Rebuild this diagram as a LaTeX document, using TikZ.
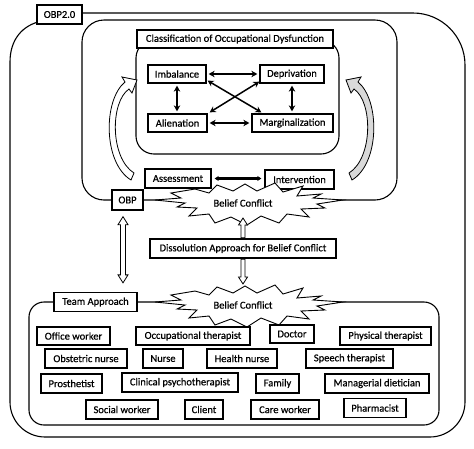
\documentclass[tikz,border=0pt]{standalone}
\usepackage{fontspec}
\setmainfont{Carlito}[BoldFont=Carlito, BoldFeatures={FakeBold=0.6}]
\usetikzlibrary{arrows.meta,calc}
\tikzset{
  burstshape/.pic={
    \draw[line width=0.9pt, fill=white, line join=miter]
      (-88,-3) -- (-62,-5) -- (-72,-10) -- (-48,-14)
      -- (-34,-10) -- (-26,-18) -- (-10,-12) -- (2,-19) -- (14,-12) -- (32,-20) -- (40,-11) -- (60,-17) -- (54,-7)
      -- (78,-9) -- (70,-5) -- (100,-3)
      -- (74,1) -- (82,5) -- (58,6)
      -- (66,14) -- (44,11) -- (36,20) -- (18,13) -- (4,22) -- (-12,14) -- (-28,20) -- (-34,11) -- (-54,13) -- (-46,5)
      -- (-66,4) -- (-58,0) -- cycle;
  },
  hollowline/.style={line width=0.8pt, fill=white, line join=miter}
}
% hollow arrow: #1 tail, #2 tip, #3 shaft half width, #4 head half width, #5 head length
\newcommand\myhollowarrow[5]{%
  \coordinate (hbase) at ($(#2)!#5!(#1)$);
  \draw[hollowline]
    ($(#1)!#3!90:(#2)$) -- ($(hbase)!#3!90:(#2)$) -- ($(hbase)!#4!90:(#2)$) -- (#2)
    -- ($(hbase)!#4!-90:(#2)$) -- ($(hbase)!#3!-90:(#2)$) -- ($(#1)!#3!-90:(#2)$) -- cycle;
}
\newcommand\myhollowboth[5]{%
  \coordinate (hbaseA) at ($(#1)!#5!(#2)$);
  \coordinate (hbaseB) at ($(#2)!#5!(#1)$);
  \draw[hollowline]
    (#1) -- ($(hbaseA)!#4!-90:(#2)$) -- ($(hbaseA)!#3!-90:(#2)$)
    -- ($(hbaseB)!#3!90:(#1)$) -- ($(hbaseB)!#4!90:(#1)$) -- (#2)
    -- ($(hbaseB)!#4!-90:(#1)$) -- ($(hbaseB)!#3!-90:(#1)$)
    -- ($(hbaseA)!#3!90:(#2)$) -- ($(hbaseA)!#4!90:(#2)$) -- cycle;
}
\begin{document}
\begin{tikzpicture}[x=1pt,y=-1pt,
  box/.style={draw, line width=1.3pt, fill=white, inner sep=0pt, minimum height=18pt, font=\fontsize{10.5}{12}\selectfont\bfseries},
  frame/.style={line width=1.1pt},
  dbl/.style={line width=1.5pt, {Stealth[length=6pt,width=6.5pt]}-{Stealth[length=6pt,width=6.5pt]}, shorten <=2pt, shorten >=2pt},
  bctext/.style={font=\fontsize{10.5}{12}\selectfont\bfseries, inner sep=0pt}
]
\useasboundingbox (0,0) rectangle (474,448);

% outer frame
\draw[frame] (60,13) -- (413,13) .. controls (441.7,13) and (465,36.3) .. (465,65)
  -- (465,402) .. controls (465,421.3) and (449.3,437) .. (430,437)
  -- (45,437) .. controls (25.7,437) and (10,421.3) .. (10,402)
  -- (10,62) .. controls (10,40) and (22,25) .. (42,21);
\node[box, minimum width=45pt, minimum height=19pt] (obp2) at (59.5,14.5) {OBP2.0};

% inner OBP frame
\draw[frame, rounded corners=22pt] (82,20) rectangle (397,200);

% classification frame
\draw[frame, rounded corners=18pt] (136,40) rectangle (339,154);
\node[box, minimum width=196pt] (cls) at (235,39) {Classification of Occupational Dysfunction};

\node[box, minimum width=58pt] (imb) at (177,74) {Imbalance};
\node[box, minimum width=64pt] (dep) at (292,74) {Deprivation};
\node[box, minimum width=59pt] (ali) at (177.5,123) {Alienation};
\node[box, minimum width=81pt] (mar) at (292.5,123) {Marginalization};

\draw[dbl] (imb.east) -- (dep.west);
\draw[dbl] (ali.east) -- (mar.west);
\draw[dbl] (imb.south) -- (imb.south |- ali.north);
\draw[dbl] (dep.south) -- (dep.south |- mar.north);
\draw[dbl, shorten <=0pt, shorten >=0pt] ($(imb.south east)+(1,-3)$) -- ($(mar.north west)+(10,-1)$);
\draw[dbl, shorten <=0pt, shorten >=0pt] ($(dep.south west)+(0,-2)$) -- ($(ali.north east)+(2,-1)$);

% curved arrows
\draw[line width=0.8pt, fill=white, line join=miter]
  (131,180) .. controls (103,163) and (103,100) .. (125,82) -- (122,77) -- (137,80) -- (132,93) -- (129,89)
  .. controls (110,102) and (110,158) .. (134,173) -- cycle;
\draw[line width=0.8pt, fill=gray!30, line join=miter]
  (352,180) .. controls (380,163) and (380,100) .. (358,82) -- (361,77) -- (346,80) -- (351,93) -- (354,89)
  .. controls (373,102) and (373,158) .. (349,173) -- cycle;

% assessment / intervention
\node[box, minimum width=66pt, minimum height=19pt] (ass) at (178,178.5) {Assessment};
\node[box, minimum width=69pt, minimum height=19pt] (int) at (299.5,179.5) {Intervention};
\draw[line width=2.2pt, {Stealth[length=4pt,width=5pt]}-{Stealth[length=4pt,width=5pt]}, shorten <=3pt, shorten >=3pt] (ass.east) -- (ass.east -| int.west);

% belief conflict 1
\pic at (243,203) {burstshape};
\node[bctext] (bc1) at (243,203) {Belief Conflict};
\node[box, minimum width=31pt, minimum height=20pt] (obp) at (127.5,200) {OBP};

% dissolution
\node[box, minimum width=186pt, minimum height=19pt] (dis) at (243,248.5) {Dissolution Approach for Belief Conflict};
\coordinate (bc1b) at (243,218);
\coordinate (bc2t) at (243,284);
\coordinate (disn) at ($(dis.north)+(0,-0.5)$);
\coordinate (diss) at ($(dis.south)+(0,0.5)$);
\myhollowarrow{disn}{bc1b}{2pt}{4.5pt}{7pt}
\myhollowarrow{diss}{bc2t}{2pt}{4.5pt}{7pt}

% team frame
\draw[frame, rounded corners=15pt] (29,302) rectangle (439,425);
\pic at (243,305) {burstshape};
\node[bctext] (bc2) at (243,305) {Belief Conflict};
\node[box, minimum width=83pt, minimum height=19pt] (team) at (95.5,302) {Team Approach};

\coordinate (obpa) at ([xshift=-4.5pt,yshift=-6pt]obp.south);
\coordinate (teama) at ([xshift=27.5pt,yshift=9pt]team.north);
\myhollowboth{obpa}{teama}{2.5pt}{5pt}{8pt}

% team members
\node[box, minimum width=73pt] (t1) at (73.5,336) {Office worker};
\node[box, minimum width=114pt] (t2) at (193,336) {Occupational therapist};
\node[box, minimum width=44pt] (t3) at (292,334) {Doctor};
\node[box, minimum width=91pt] (t4) at (385.5,336) {Physical therapist};
\node[box, minimum width=82pt, minimum height=19pt] (t5) at (86,358.5) {Obstetric nurse};
\node[box, minimum width=40pt, minimum height=19pt] (t6) at (163,358.5) {Nurse};
\node[box, minimum width=70pt, minimum height=19pt] (t7) at (242,358.5) {Health nurse};
\node[box, minimum width=87pt, minimum height=19pt] (t8) at (349.5,358.5) {Speech therapist};
\node[box, minimum width=61pt, minimum height=19pt] (t9) at (71.5,383.5) {Prosthetist};
\node[box, minimum width=116pt, minimum height=19pt] (t10) at (180,382.5) {Clinical psychotherapist};
\node[box, minimum width=43pt, minimum height=19pt] (t11) at (277.5,383.5) {Family};
\node[box, minimum width=104pt, minimum height=19pt] (t12) at (377,383.5) {Managerial dietician};
\node[box, minimum width=72pt, minimum height=19pt] (t13) at (122,409.5) {Social worker};
\node[box, minimum width=38pt, minimum height=19pt] (t14) at (204,409.5) {Client};
\node[box, minimum width=68pt, minimum height=19pt] (t15) at (285,409.5) {Care worker};
\node[box, minimum width=62pt, minimum height=19pt] (t16) at (375,408) {Pharmacist};
\end{tikzpicture}
\end{document}
